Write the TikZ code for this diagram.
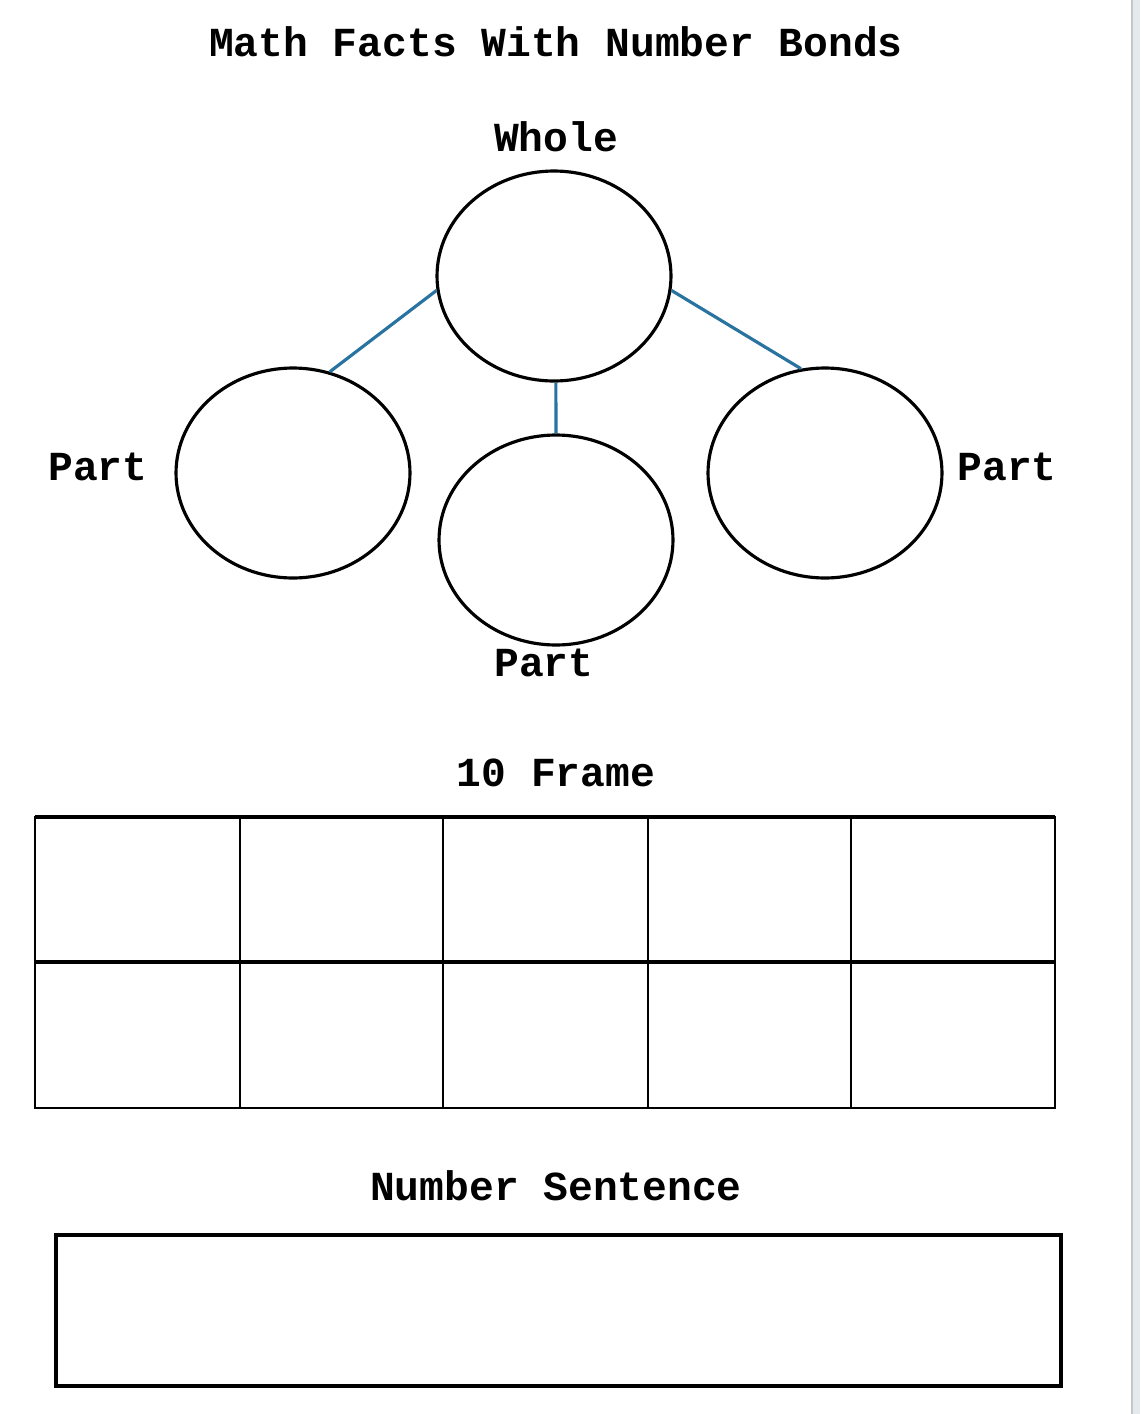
\documentclass[tikz,border=0pt]{standalone}
\usepackage{fontspec}
\setmonofont{Liberation Mono}
\usetikzlibrary{shapes.geometric}

\definecolor{bondblue}{RGB}{40,115,160}
\definecolor{edgegray}{RGB}{228,233,238}

\begin{document}
\begin{tikzpicture}[x=0.02cm, y=-0.02cm,
		bond/.style={ellipse, draw, line width=1.8pt, minimum width=4.68cm, minimum height=4.2cm},
		lbl/.style={font=\ttfamily\bfseries\fontsize{23.5}{28}\selectfont, inner sep=0pt},
		link/.style={draw=bondblue, line width=1.8pt}]

		\useasboundingbox (0,0) rectangle (1140,1414);
		\fill[edgegray] (1131,0) rectangle (1140,1414);
		\draw[gray!45, line width=1pt] (1132,0) -- (1132,1414);

		\node[lbl] (title) at (556,42) {Math Facts With Number Bonds};

		% number bond
		\node[bond] (whole) at (554,276) {};
		\node[bond] (partL) at (293,473) {};
		\node[bond] (partM) at (556,540) {};
		\node[bond] (partR) at (825,473) {};

		\node[lbl] (wholetxt) at (556,137) {Whole};
		\node[lbl] (partLtxt) at (98,467) {Part};
		\node[lbl] (partRtxt) at (1007,467) {Part};
		\node[lbl] (partMtxt) at (544,663) {Part};

		\draw[link] (whole.187) -- (partL.70);
		\draw[link] (whole.-7) -- (partR.103);
		\draw[link] (whole.-89) -- (partM.north);

		% ten frame
		\node[lbl] (frametxt) at (556,773) {10 Frame};
		\begin{scope}[line width=1.3pt]
			\draw (35,817) rectangle (1055,1108);
			\foreach \x in {240,443,648,851}
				\draw (\x,817) -- (\x,1108);
		\end{scope}
		\draw[line width=2pt] (35,817) -- (1055,817);
		\draw[line width=2pt] (35,962) -- (1055,962);

		% number sentence
		\node[lbl] (sentencetxt) at (556,1186) {Number Sentence};
		\draw[line width=1.9pt] (56,1235) rectangle (1061,1386);

	\end{tikzpicture}
\end{document}
